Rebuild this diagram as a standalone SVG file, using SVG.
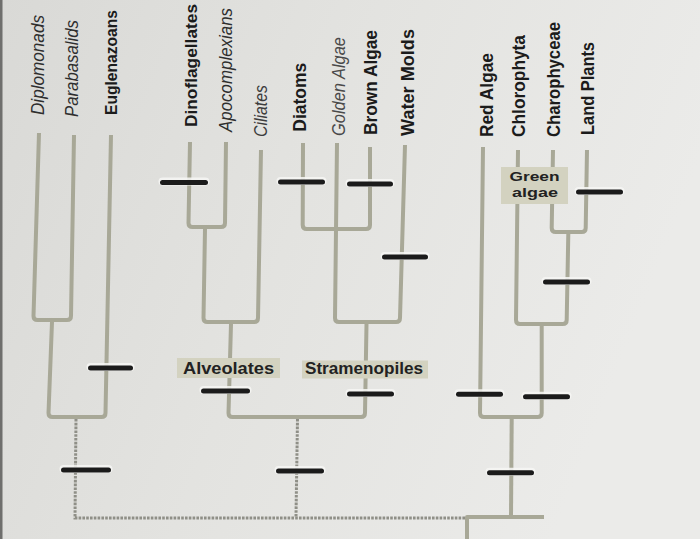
<svg xmlns="http://www.w3.org/2000/svg" width="700" height="539" viewBox="0 0 700 539">
<defs>
<linearGradient id="bg" x1="0" y1="0" x2="1" y2="0.3">
<stop offset="0" stop-color="#d9d9d6"/>
<stop offset="0.5" stop-color="#e3e3e0"/>
<stop offset="1" stop-color="#ebebe9"/>
</linearGradient>
<style>
.br{fill:none;stroke:#a8a897;stroke-width:4;stroke-linecap:butt;stroke-linejoin:round}
.dot{fill:none;stroke:#8f8f87;stroke-width:3;stroke-dasharray:2.6 1.2}
.halo{stroke:#f7f7f5;stroke-width:8;stroke-linecap:round;opacity:0.85}
.bar{stroke:#1b1b1b;stroke-width:5;stroke-linecap:round}
.tb{font-family:"Liberation Sans",Arial,sans-serif;font-weight:bold;font-size:18px;fill:#1b1b1b}
.ti{font-family:"Liberation Sans",Arial,sans-serif;font-style:italic;font-size:18px;fill:#2e2e2e}
.box{fill:#d3d2c0}
.bl{font-family:"Liberation Sans",Arial,sans-serif;font-weight:bold;font-size:16px;fill:#222}
.gl{font-family:"Liberation Sans",Arial,sans-serif;font-weight:bold;font-size:13.5px;fill:#222}
</style>
</defs>
<rect width="700" height="539" fill="url(#bg)"/>
<rect x="0" y="0" width="2.5" height="539" fill="#6f6f6d"/>

<g id="connectors">
<path class="br" d="M39,133 L33.5,316 Q33.5,320 37.5,320 L67,320 Q71,320 71,316 L74,135"/>
<path class="br" d="M52,322 L48.5,413 Q48.5,417 52.5,417 L101.5,417 Q105.5,417 105.5,413 L111,135"/>
<path class="dot" d="M76,419 L75,518 L467,518"/>
<path class="br" d="M190,142 L188.5,223 Q188.5,227 192.5,227 L221,227 Q225,227 225,223 L226,142"/>
<path class="br" d="M205,229 L203.5,318 Q203.5,322 207.5,322 L254,322 Q258,322 258,318 L261,150"/>
<path class="br" d="M231,324 L228.5,413 Q228.5,417 232.5,417 L361,417 Q365,417 365,413 L366.5,324"/>
<path class="dot" d="M297.5,419 L296,516.5"/>
<path class="br" d="M303,143 L302.7,225 Q302.7,229 306.7,229 L366,229 Q370,229 370,225 L370,147"/>
<path class="br" d="M337,143 L335,318 Q335,322 339,322 L396,322 Q400,322 400,318 L405,145"/>
<path class="br" d="M553,150 L551.7,228 Q551.7,232 555.7,232 L581.7,232 Q585.7,232 585.7,228 L587,150"/>
<path class="br" d="M518,150 L516,320 Q516,324 520,324 L562.7,324 Q566.7,324 566.7,320 L568.3,234"/>
<path class="br" d="M483,147 L480,413 Q480,417 484,417 L537.7,417 Q541.7,417 541.7,413 L541.7,326"/>
<path class="br" d="M511.7,419 L511,517"/>
<path class="br" d="M467,539 L467,517 L544,517"/>
</g>

<g id="marks">
<g id="m-euglenazoans"><line class="halo" x1="90.5" y1="367" x2="130.5" y2="367"/><line class="bar" x1="90.5" y1="368" x2="130.5" y2="368"/></g>
<g id="m-excavata"><line class="halo" x1="63.5" y1="469" x2="108.5" y2="469"/><line class="bar" x1="63.5" y1="470" x2="108.5" y2="470"/></g>
<g id="m-dino"><line class="halo" x1="162.5" y1="181.5" x2="205.5" y2="181.5"/><line class="bar" x1="162.5" y1="182.5" x2="205.5" y2="182.5"/></g>
<g id="m-diatoms"><line class="halo" x1="280.5" y1="181" x2="322.5" y2="181"/><line class="bar" x1="280.5" y1="182" x2="322.5" y2="182"/></g>
<g id="m-brown"><line class="halo" x1="349.5" y1="183" x2="390.5" y2="183"/><line class="bar" x1="349.5" y1="184" x2="390.5" y2="184"/></g>
<g id="m-watermolds"><line class="halo" x1="384.5" y1="256" x2="425.5" y2="256"/><line class="bar" x1="384.5" y1="257" x2="425.5" y2="257"/></g>
<g id="m-alveolates"><line class="halo" x1="203.5" y1="390" x2="247.5" y2="390"/><line class="bar" x1="203.5" y1="391" x2="247.5" y2="391"/></g>
<g id="m-stramenopiles"><line class="halo" x1="349.5" y1="393" x2="391.5" y2="393"/><line class="bar" x1="349.5" y1="394" x2="391.5" y2="394"/></g>
<g id="m-sar"><line class="halo" x1="278.5" y1="470" x2="321.5" y2="470"/><line class="bar" x1="278.5" y1="471" x2="321.5" y2="471"/></g>
<g id="m-landplants"><line class="halo" x1="578.5" y1="191" x2="620.5" y2="191"/><line class="bar" x1="578.5" y1="192" x2="620.5" y2="192"/></g>
<g id="m-strepto"><line class="halo" x1="545.5" y1="281" x2="587.5" y2="281"/><line class="bar" x1="545.5" y1="282" x2="587.5" y2="282"/></g>
<g id="m-red"><line class="halo" x1="458.5" y1="393.3" x2="500.5" y2="393.3"/><line class="bar" x1="458.5" y1="394.3" x2="500.5" y2="394.3"/></g>
<g id="m-green"><line class="halo" x1="525.5" y1="395.7" x2="567.5" y2="395.7"/><line class="bar" x1="525.5" y1="396.7" x2="567.5" y2="396.7"/></g>
<g id="m-archaeplastida"><line class="halo" x1="489.5" y1="471.7" x2="531.5" y2="471.7"/><line class="bar" x1="489.5" y1="472.7" x2="531.5" y2="472.7"/></g>
</g>

<g id="taxa">
<g id="diplomonads"><text class="ti" transform="translate(43.5,115) rotate(-90)" textLength="100" lengthAdjust="spacingAndGlyphs">Diplomonads</text></g>
<g id="parabasalids"><text class="ti" transform="translate(78,117) rotate(-90)" textLength="97" lengthAdjust="spacingAndGlyphs">Parabasalids</text></g>
<g id="euglenazoans"><text class="tb" style="font-size:16px" transform="translate(116.5,115) rotate(-90)" textLength="105" lengthAdjust="spacingAndGlyphs">Euglenazoans</text></g>
<g id="dinoflagellates"><text class="tb" style="font-size:17px" transform="translate(197,127) rotate(-90)" textLength="123" lengthAdjust="spacingAndGlyphs">Dinoflagellates</text></g>
<g id="apocomplexians"><text class="ti" transform="translate(232,132) rotate(-90)" textLength="124" lengthAdjust="spacingAndGlyphs">Apocomplexians</text></g>
<g id="ciliates"><text class="ti" style="fill:#3c3c3c" transform="translate(267,137) rotate(-90)" textLength="52" lengthAdjust="spacingAndGlyphs">Ciliates</text></g>
<g id="diatoms"><text class="tb" transform="translate(305.7,131.7) rotate(-90)" textLength="69" lengthAdjust="spacingAndGlyphs">Diatoms</text></g>
<g id="goldenalgae"><text class="ti" style="fill:#4a4a4a" transform="translate(345,136) rotate(-90)" textLength="99" lengthAdjust="spacingAndGlyphs">Golden Algae</text></g>
<g id="brownalgae"><text class="tb" transform="translate(376.7,135) rotate(-90)" textLength="105" lengthAdjust="spacingAndGlyphs">Brown Algae</text></g>
<g id="watermolds"><text class="tb" transform="translate(414,136) rotate(-90)" textLength="107" lengthAdjust="spacingAndGlyphs">Water Molds</text></g>
<g id="redalgae"><text class="tb" transform="translate(492.5,137) rotate(-90)" textLength="84" lengthAdjust="spacingAndGlyphs">Red Algae</text></g>
<g id="chlorophyta"><text class="tb" transform="translate(525,137) rotate(-90)" textLength="102" lengthAdjust="spacingAndGlyphs">Chlorophyta</text></g>
<g id="charophyceae"><text class="tb" transform="translate(560,137) rotate(-90)" textLength="115" lengthAdjust="spacingAndGlyphs">Charophyceae</text></g>
<g id="landplants"><text class="tb" transform="translate(594,135) rotate(-90)" textLength="93" lengthAdjust="spacingAndGlyphs">Land Plants</text></g>
</g>

<g id="alveolates">
<rect class="box" x="177" y="358" width="103" height="20"/>
<text class="bl" x="183" y="373.5" textLength="91" lengthAdjust="spacingAndGlyphs">Alveolates</text>
</g>
<g id="stramenopiles">
<rect class="box" x="302" y="360.5" width="126" height="18"/>
<text class="bl" x="305" y="374" textLength="118" lengthAdjust="spacingAndGlyphs">Stramenopiles</text>
</g>
<g id="greenalgae">
<rect class="box" x="501" y="167" width="67" height="37"/>
<text class="gl" x="534.5" y="180.5" text-anchor="middle" textLength="50" lengthAdjust="spacingAndGlyphs">Green</text>
<text class="gl" x="535" y="196.5" text-anchor="middle" textLength="46" lengthAdjust="spacingAndGlyphs">algae</text>
</g>
</svg>
